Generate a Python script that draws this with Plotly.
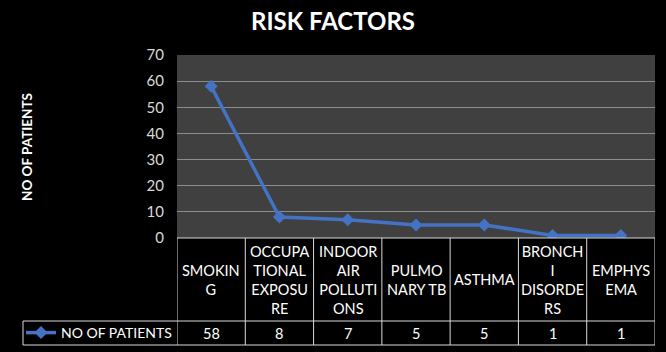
import plotly.graph_objects as go

categories = ["SMOKIN<br>G", "OCCUPA<br>TIONAL<br>EXPOSU<br>RE", "INDOOR<br>AIR<br>POLLUTI<br>ONS",
              "PULMO<br>NARY TB", "ASTHMA", "BRONCH<br>I<br>DISORDE<br>RS", "EMPHYS<br>EMA"]
patients = [58, 8, 7, 5, 5, 1, 1]
series_name = "NO OF PATIENTS"
y_ticks = [0, 10, 20, 30, 40, 50, 60, 70]
title_text = "RISK FACTORS"

W, H = 666, 352
FONT = "Lato"
TXT = "#ffffff"
GRID = "#8c8c8c"
BORDER = "#d9d9d9"
BLUE = "#4472C4"

def X(px):
    return px / W

def Y(py):
    return 1 - py / H

plot_left, plot_right, plot_top, plot_bottom = 177, 655, 55, 238
row_mid, row_vals_top, table_bottom = 238, 321, 345
legend_left = 23

xs = list(range(len(patients)))

fig = go.Figure()
fig.add_trace(go.Scatter(
    x=xs, y=patients, mode="lines+markers", name=series_name,
    line=dict(color=BLUE, width=3.5),
    marker=dict(symbol="diamond", size=10, color=BLUE),
    showlegend=True,
))

shapes = []
line_style = dict(color=BORDER, width=1)
shapes.append(dict(type="line", xref="paper", yref="paper", x0=X(plot_left), x1=X(plot_right),
                   y0=Y(row_mid), y1=Y(row_mid), line=line_style))
for py in (row_vals_top, table_bottom):
    shapes.append(dict(type="line", xref="paper", yref="paper", x0=X(legend_left), x1=X(plot_right),
                       y0=Y(py), y1=Y(py), line=line_style))
for i in range(len(categories) + 1):
    shapes.append(dict(type="line", xref="x", yref="paper", x0=i - 0.5, x1=i - 0.5,
                       y0=Y(row_mid), y1=Y(table_bottom), line=line_style))
shapes.append(dict(type="line", xref="paper", yref="paper", x0=X(legend_left), x1=X(legend_left),
                   y0=Y(row_vals_top), y1=Y(table_bottom), line=line_style))

annotations = []
for i, (c, v) in enumerate(zip(categories, patients)):
    annotations.append(dict(x=i, y=Y((row_mid + row_vals_top) / 2), xref="x", yref="paper",
                            text=c, showarrow=False, xanchor="center", yanchor="middle",
                            align="center", font=dict(family=FONT, size=14.5, color=TXT)))
    annotations.append(dict(x=i, y=Y((row_vals_top + table_bottom) / 2), xref="x", yref="paper",
                            text=str(v), showarrow=False, xanchor="center", yanchor="middle",
                            font=dict(family=FONT, size=14.5, color=TXT)))
annotations.append(dict(x=X(27), y=Y(147), xref="paper", yref="paper", text="<b>NO OF PATIENTS</b>",
                        textangle=-90, showarrow=False, xanchor="center", yanchor="middle",
                        font=dict(family=FONT, size=13.5, color=TXT)))

fig.update_layout(
    width=W, height=H, autosize=False,
    margin=dict(l=0, r=0, t=0, b=0, pad=0, autoexpand=False),
    paper_bgcolor="#000000", plot_bgcolor="#404040",
    title=dict(text=f"<b>{title_text}</b>", x=0.5, xanchor="center", y=Y(22), yanchor="middle",
               font=dict(family=FONT, size=24, color=TXT)),
    xaxis=dict(domain=[X(plot_left), X(plot_right)], range=[-0.5, len(categories) - 0.5],
               visible=False, automargin=False),
    yaxis=dict(domain=[Y(plot_bottom), Y(plot_top)], range=[0, 70], tickvals=y_ticks,
               showgrid=True, gridcolor=GRID, gridwidth=1, zeroline=False, automargin=False,
               ticks="outside", ticklen=9, tickcolor="rgba(0,0,0,0)",
               tickfont=dict(family=FONT, size=15, color="#d9d9d9")),
    legend=dict(x=X(21), y=Y((row_vals_top + table_bottom) / 2), xanchor="left", yanchor="middle",
                bgcolor="rgba(0,0,0,0)", font=dict(family=FONT, size=14, color=TXT),
                itemwidth=30, tracegroupgap=0),
    shapes=shapes, annotations=annotations,
)

fig.write_html("out.html")
